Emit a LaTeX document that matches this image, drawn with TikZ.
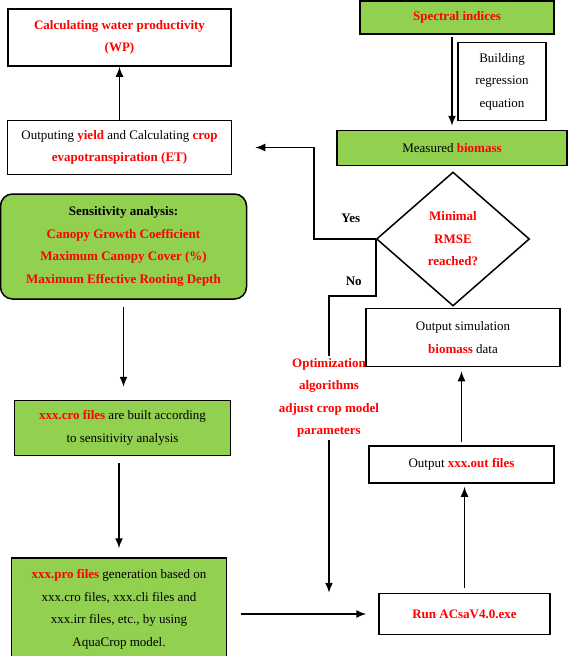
\documentclass[tikz,border=0pt]{standalone}
\usepackage{fontspec}
\setmainfont{Liberation Serif}
\usetikzlibrary{shapes, arrows.meta, positioning}
\definecolor{leafgreen}{HTML}{92D050}
\newcommand{\redb}[1]{\textcolor{red}{\textbf{#1}}}

\begin{document}
\begin{tikzpicture}[x=1pt, y=-1pt, line width=1.5pt, font=\fontsize{13}{22.5}\selectfont]
        % Define block styles
        \tikzstyle{plainnode} = [rectangle, draw=black, fill=white, align=center, inner sep=3pt]
        \tikzstyle{greennode} = [plainnode, fill=leafgreen]
        \tikzstyle{decision} = [diamond, draw=black, fill=white, align=center, inner sep=0pt, minimum width=153pt, minimum height=134pt]
        \tikzstyle{line} = [draw, -{Latex[length=10pt, width=8pt]}]

        \useasboundingbox (0,0) rectangle (570,656);

        % Define nodes (left column)
        \node [plainnode, minimum width=223pt, minimum height=57pt] (WP) at (119.5,37.5) {\redb{Calculating water productivity}\\\redb{(WP)}};
        \node [plainnode, below=53pt of WP, minimum width=224pt, minimum height=54pt] (ET) {Outputing \redb{yield} and Calculating \redb{crop}\\\redb{evapotranspiration (ET)}};
        \node [greennode, rounded corners=12pt, below=18pt of ET, xshift=4pt, minimum width=246pt, minimum height=105pt] (SA) {\textbf{Sensitivity analysis:}\\\redb{Canopy Growth Coefficient}\\\redb{Maximum Canopy Cover (\%)}\\\redb{Maximum Effective Rooting Depth}};
        \node [greennode, below=100pt of SA, xshift=-1pt, minimum width=216pt, minimum height=55pt] (CRO) {\redb{xxx.cro files} are built according\\to sensitivity analysis};
        \node [greennode, below=101pt of CRO, xshift=-3.5pt, minimum width=215pt, minimum height=103pt] (PRO) {\redb{xxx.pro files} generation based on\\xxx.cro files, xxx.cli files and\\xxx.irr files, etc., by using\\AquaCrop model.};

        % Define nodes (right column)
        \node [greennode, minimum width=194pt, minimum height=33pt] (SI) at (457,17.5) {\redb{Spectral indices}};
        \node [plainnode, below=7pt of SI, xshift=45pt, minimum width=88pt, minimum height=78pt] (REG) {Building\\regression\\equation};
        \node [greennode, below=95pt of SI, xshift=-5pt, minimum width=230pt, minimum height=35pt] (MB) {Measured \redb{biomass}};
        \node [decision, below=5pt of MB, xshift=1pt] (DEC) {\redb{Minimal}\\\redb{RMSE}\\\redb{reached?}};
        \node [plainnode, below=1pt of DEC, xshift=10pt, minimum width=194pt, minimum height=58pt] (SIM) {Output simulation\\\redb{biomass} data};
        \node [plainnode, below=78pt of SIM, xshift=-1.5pt, minimum width=185pt, minimum height=37pt] (OUT) {Output \redb{xxx.out files}};
        \node [plainnode, below=109pt of OUT, xshift=3pt, minimum width=171pt, minimum height=41pt] (RUN) {\redb{Run ACsaV4.0.exe}};
        \node [align=center, inner sep=2pt] (OPT) at (329,398) {\redb{Optimization}\\\redb{algorithms}\\\redb{adjust crop model}\\\redb{parameters}};
        \coordinate (OPTEND) at (OPT.south |- RUN.north);

        % Connect nodes with paths
        \draw[line] (ET) -- (WP);
        \draw[line, shorten <=7pt, shorten >=13pt] (SA.south) -- (SA.south |- CRO.north);
        \draw[line, shorten <=7pt, shorten >=9pt] (PRO.north |- CRO.south) -- (PRO.north);
        \draw[line, shorten <=14pt, shorten >=12pt] (PRO.east |- RUN.west) -- (RUN.west);
        \draw[line, shorten <=5pt, shorten >=3pt] (RUN.north) -- (RUN.north |- OUT.south);
        \draw[line, shorten <=3pt, shorten >=4pt] (OUT.north) -- (OUT.north |- SIM.south);
        \draw[line, shorten <=2pt, shorten >=4pt] (SI.south -| MB.north) -- (MB.north);
        \draw[line, shorten >=23pt] (DEC.west) -- node[above=12pt, xshift=6pt] {\textbf{Yes}} ++(-62,0) |- (ET.east);
        \draw (DEC.west) -- node[pos=0.75, left=10pt] {\textbf{No}} ++(0,57) -| (OPT.north);
        \draw[line] (OPT.south) -- (OPTEND);

    \end{tikzpicture}
\end{document}
